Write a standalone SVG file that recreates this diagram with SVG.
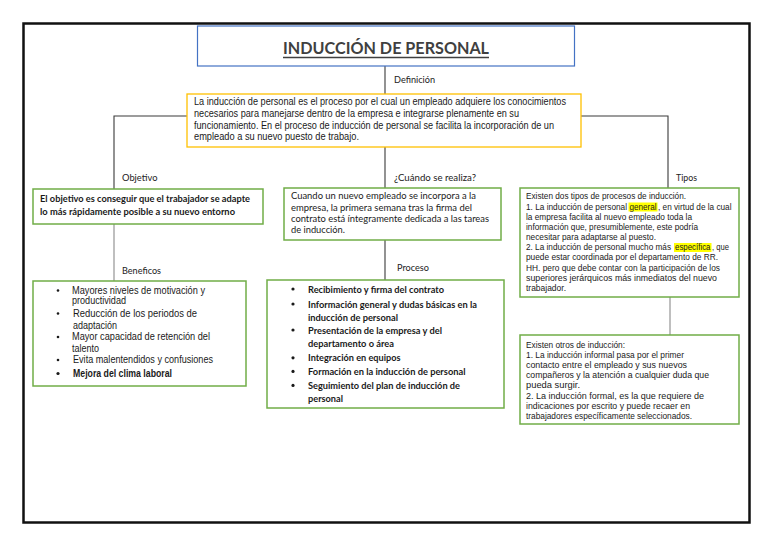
<svg xmlns="http://www.w3.org/2000/svg" width="768" height="543" viewBox="0 0 768 543">
<style>
.frame{fill:#fff;stroke:#111;stroke-width:2.5}
.green{fill:#fff;stroke:#70ad47;stroke-width:1.5}
.yellow{fill:#fff;stroke:#ffc000;stroke-width:1.3}
.blue{fill:#fff;stroke:#4472c4;stroke-width:1.2}
.conn{fill:none;stroke:#3a3a3a;stroke-width:1.1}
.conn2{fill:none;stroke:#8a8a8a;stroke-width:1.1}
.lbl{font-family:Lato,"Open Sans",sans-serif;font-size:9px;fill:#222}
.ar{font-family:"Liberation Sans Narrow","Liberation Sans",Arial,sans-serif;font-size:10px;fill:#1a1a1a}
.cal{font-family:Lato,"Open Sans",sans-serif;font-size:10px;fill:#1a1a1a}
.calb{font-family:Lato,"Open Sans",sans-serif;font-size:9.5px;font-weight:bold;fill:#1a1a1a}
.sm{font-family:"Liberation Sans Narrow","Liberation Sans",Arial,sans-serif;font-size:8.6px;fill:#1a1a1a}
.hl{fill:#ffff00}
.bul{fill:#1a1a1a}
</style>
<rect width="768" height="543" fill="#fff"/>
<rect class="frame" x="23.5" y="23.5" width="726" height="499"/>

<g id="connectors">
<path class="conn" d="M385,66 V94"/>
<path class="conn" d="M187,116 H114 V189"/>
<path class="conn" d="M581,116 H668 V188"/>
<path class="conn" d="M385,147 V188"/>
<path class="conn2" d="M114,224 V281"/>
<path class="conn" d="M385,240 V280"/>
<path class="conn2" d="M670,297 V335"/>
<text class="lbl" x="394" y="82.5" textLength="41" lengthAdjust="spacingAndGlyphs">Definición</text>
<text class="lbl" x="122" y="180.5" textLength="35.5" lengthAdjust="spacingAndGlyphs">Objetivo</text>
<text class="lbl" x="394" y="180.5" textLength="82" lengthAdjust="spacingAndGlyphs">¿Cuándo se realiza?</text>
<text class="lbl" x="676" y="180.5" textLength="21" lengthAdjust="spacingAndGlyphs">Tipos</text>
<text class="lbl" x="122" y="273.5" textLength="39" lengthAdjust="spacingAndGlyphs">Beneficos</text>
<text class="lbl" x="397" y="271" textLength="32" lengthAdjust="spacingAndGlyphs">Proceso</text>
</g>

<g id="title">
<rect class="blue" x="197.5" y="26" width="377" height="40"/>
<text x="283" y="54" textLength="206" lengthAdjust="spacingAndGlyphs" style="font-family:Lato,'Open Sans',sans-serif;font-size:17.5px;font-weight:bold;fill:#404040">INDUCCIÓN DE PERSONAL</text>
<line x1="283" y1="57.5" x2="489" y2="57.5" stroke="#404040" stroke-width="1.4"/>
</g>

<g id="definicion">
<rect class="yellow" x="187" y="94" width="394" height="53"/>
<text class="ar" x="194" y="105" textLength="372" lengthAdjust="spacingAndGlyphs">La inducción de personal es el proceso por el cual un empleado adquiere los conocimientos</text>
<text class="ar" x="194" y="117" textLength="325" lengthAdjust="spacingAndGlyphs">necesarios para manejarse dentro de la empresa e integrarse plenamente en su</text>
<text class="ar" x="194" y="128.5" textLength="360" lengthAdjust="spacingAndGlyphs">funcionamiento. En el proceso de inducción de personal se facilita la incorporación de un</text>
<text class="ar" x="194" y="140" textLength="165" lengthAdjust="spacingAndGlyphs">empleado a su nuevo  puesto de trabajo.</text>
</g>

<g id="objetivo">
<rect class="green" x="33" y="189" width="230" height="35"/>
<text class="calb" x="40" y="202" textLength="210" lengthAdjust="spacingAndGlyphs">El objetivo es conseguir que el trabajador se adapte</text>
<text class="calb" x="40" y="215" textLength="195" lengthAdjust="spacingAndGlyphs">lo más rápidamente posible a su nuevo entorno</text>
</g>

<g id="beneficios">
<rect class="green" x="33" y="281" width="213" height="105"/>
<circle class="bul" cx="58" cy="290.5" r="1.3"/>
<circle class="bul" cx="58" cy="313.5" r="1.3"/>
<circle class="bul" cx="58" cy="337" r="1.3"/>
<circle class="bul" cx="58" cy="360" r="1.3"/>
<circle class="bul" cx="58" cy="373.5" r="1.6"/>
<text class="ar" x="72" y="293.5" textLength="133" lengthAdjust="spacingAndGlyphs">Mayores niveles de motivación y</text>
<text class="ar" x="72" y="303.5" textLength="54" lengthAdjust="spacingAndGlyphs">productividad</text>
<text class="ar" x="73" y="316.5" textLength="124" lengthAdjust="spacingAndGlyphs">Reducción de  los  periodos de</text>
<text class="ar" x="73" y="328.5" textLength="44" lengthAdjust="spacingAndGlyphs">adaptación</text>
<text class="ar" x="72" y="340" textLength="138" lengthAdjust="spacingAndGlyphs">Mayor capacidad de retención del</text>
<text class="ar" x="72" y="352" textLength="27" lengthAdjust="spacingAndGlyphs">talento</text>
<text class="ar" x="73" y="363" textLength="140" lengthAdjust="spacingAndGlyphs">Evita malentendidos y confusiones</text>
<text class="ar" x="73" y="376.5" textLength="99" lengthAdjust="spacingAndGlyphs" font-weight="bold">Mejora del clima laboral</text>
</g>

<g id="cuando">
<rect class="green" x="284" y="188" width="217" height="52"/>
<text class="cal" x="291" y="199" textLength="185" lengthAdjust="spacingAndGlyphs">Cuando un nuevo empleado se incorpora a la</text>
<text class="cal" x="291" y="211" textLength="181" lengthAdjust="spacingAndGlyphs">empresa, la primera semana tras la firma del</text>
<text class="cal" x="291" y="222" textLength="198" lengthAdjust="spacingAndGlyphs">contrato está íntegramente dedicada a las tareas</text>
<text class="cal" x="291" y="233" textLength="54" lengthAdjust="spacingAndGlyphs">de inducción.</text>
</g>

<g id="proceso">
<rect class="green" x="267" y="280" width="237" height="128"/>
<circle class="bul" cx="293" cy="289" r="1.6"/>
<circle class="bul" cx="293" cy="304" r="1.6"/>
<circle class="bul" cx="293" cy="330" r="1.6"/>
<circle class="bul" cx="293" cy="357.8" r="1.6"/>
<circle class="bul" cx="293" cy="371.4" r="1.6"/>
<circle class="bul" cx="293" cy="385.4" r="1.6"/>
<text class="calb" x="308" y="292.5" textLength="136" lengthAdjust="spacingAndGlyphs">Recibimiento y firma del contrato</text>
<text class="calb" x="308" y="307.5" textLength="169" lengthAdjust="spacingAndGlyphs">Información general y dudas básicas en la</text>
<text class="calb" x="308" y="320.5" textLength="90" lengthAdjust="spacingAndGlyphs">inducción de personal</text>
<text class="calb" x="308" y="333.5" textLength="134" lengthAdjust="spacingAndGlyphs">Presentación de la empresa y del</text>
<text class="calb" x="308" y="347" textLength="86" lengthAdjust="spacingAndGlyphs">departamento o área</text>
<text class="calb" x="308" y="361.3" textLength="92.5" lengthAdjust="spacingAndGlyphs">Integración en equipos</text>
<text class="calb" x="308" y="374.9" textLength="157.5" lengthAdjust="spacingAndGlyphs">Formación en la inducción de personal</text>
<text class="calb" x="308" y="388.9" textLength="152" lengthAdjust="spacingAndGlyphs">Seguimiento del plan de inducción de</text>
<text class="calb" x="308" y="402" textLength="35" lengthAdjust="spacingAndGlyphs">personal</text>
</g>

<g id="tipos">
<rect class="green" x="520" y="188" width="219" height="109"/>
<rect class="hl" x="628.5" y="202.5" width="29" height="9"/>
<rect class="hl" x="674" y="243" width="37.5" height="9"/>
<text class="sm" x="526" y="199" textLength="160" lengthAdjust="spacingAndGlyphs">Existen dos tipos de procesos de inducción.</text>
<text class="sm" x="526" y="209.5" textLength="101" lengthAdjust="spacingAndGlyphs">1. La inducción de personal</text>
<text class="sm" x="629.5" y="209.5" textLength="27" lengthAdjust="spacingAndGlyphs">general</text>
<text class="sm" x="658" y="209.5" textLength="73.5" lengthAdjust="spacingAndGlyphs">, en virtud de la cual</text>
<text class="sm" x="526" y="219.5" textLength="166" lengthAdjust="spacingAndGlyphs">la empresa facilita al nuevo empleado toda la</text>
<text class="sm" x="526" y="229.5" textLength="172" lengthAdjust="spacingAndGlyphs">información que, presumiblemente, este podría</text>
<text class="sm" x="526" y="240" textLength="130" lengthAdjust="spacingAndGlyphs">necesitar para adaptarse al puesto.</text>
<text class="sm" x="526" y="250" textLength="145" lengthAdjust="spacingAndGlyphs">2. La inducción de personal mucho más</text>
<text class="sm" x="675" y="250" textLength="35.5" lengthAdjust="spacingAndGlyphs">específica</text>
<text class="sm" x="712" y="250" textLength="17" lengthAdjust="spacingAndGlyphs">, que</text>
<text class="sm" x="526" y="260" textLength="192" lengthAdjust="spacingAndGlyphs">puede estar coordinada por el departamento de RR.</text>
<text class="sm" x="526" y="270.5" textLength="194" lengthAdjust="spacingAndGlyphs">HH. pero que debe contar con la participación de los</text>
<text class="sm" x="526" y="280.5" textLength="191" lengthAdjust="spacingAndGlyphs">superiores jerárquicos más inmediatos del nuevo</text>
<text class="sm" x="526" y="291" textLength="40" lengthAdjust="spacingAndGlyphs">trabajador.</text>
</g>

<g id="tipos2">
<rect class="green" x="520" y="335" width="219" height="89"/>
<text class="sm" x="526" y="348" textLength="99" lengthAdjust="spacingAndGlyphs">Existen otros de inducción:</text>
<text class="sm" x="526" y="358" textLength="158" lengthAdjust="spacingAndGlyphs">1. La inducción informal pasa por el primer</text>
<text class="sm" x="526" y="368" textLength="161" lengthAdjust="spacingAndGlyphs">contacto entre el empleado y sus nuevos</text>
<text class="sm" x="526" y="378" textLength="183" lengthAdjust="spacingAndGlyphs">compañeros y la atención a cualquier duda que</text>
<text class="sm" x="526" y="388" textLength="54" lengthAdjust="spacingAndGlyphs">pueda surgir.</text>
<text class="sm" x="526" y="399" textLength="178" lengthAdjust="spacingAndGlyphs">2. La inducción formal, es la que requiere de</text>
<text class="sm" x="526" y="409" textLength="164" lengthAdjust="spacingAndGlyphs">indicaciones por escrito y puede recaer en</text>
<text class="sm" x="526" y="419" textLength="166" lengthAdjust="spacingAndGlyphs">trabajadores específicamente seleccionados.</text>
</g>
</svg>
